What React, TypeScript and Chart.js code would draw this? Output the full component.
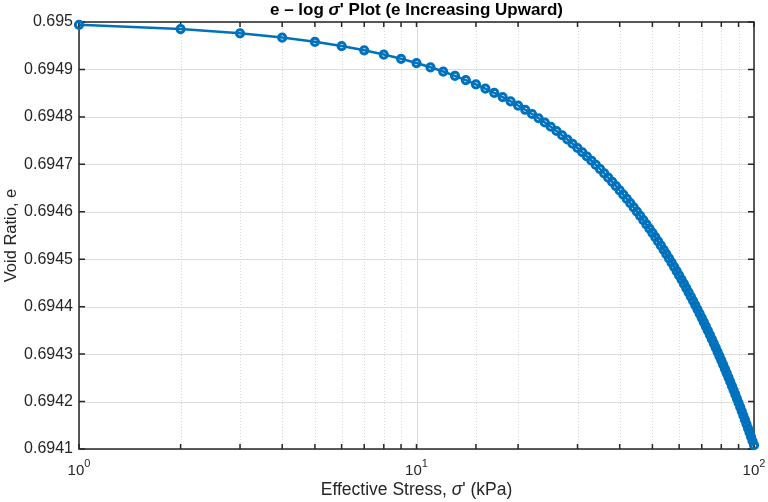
import React, { useEffect, useRef } from "react";
import { Chart, registerables } from "chart.js";

Chart.register(...registerables);

const stress: number[] = [
  1, 2, 3, 4, 5, 6, 7, 8, 9, 10, 11, 12, 13, 14, 15, 16, 17, 18, 19, 20,
  21, 22, 23, 24, 25, 26, 27, 28, 29, 30, 31, 32, 33, 34, 35, 36, 37, 38, 39, 40,
  41, 42, 43, 44, 45, 46, 47, 48, 49, 50, 51, 52, 53, 54, 55, 56, 57, 58, 59, 60,
  61, 62, 63, 64, 65, 66, 67, 68, 69, 70, 71, 72, 73, 74, 75, 76, 77, 78, 79, 80,
  81, 82, 83, 84, 85, 86, 87, 88, 89, 90, 91, 92, 93, 94, 95, 96, 97, 98, 99, 100,
];

const voidRatio: number[] = [
  0.694994, 0.69498505, 0.6949761, 0.69496715, 0.6949582, 0.69494925, 0.6949403, 0.69493135, 0.6949224, 0.69491345,
  0.6949045, 0.69489555, 0.6948866, 0.69487765, 0.6948687, 0.69485975, 0.6948508, 0.69484185, 0.6948329, 0.69482395,
  0.694815, 0.69480605, 0.6947971, 0.69478815, 0.6947792, 0.69477025, 0.6947613, 0.69475235, 0.6947434, 0.69473445,
  0.6947255, 0.69471655, 0.6947076, 0.69469865, 0.6946897, 0.69468075, 0.6946718, 0.69466285, 0.6946539, 0.69464495,
  0.694636, 0.69462705, 0.6946181, 0.69460915, 0.6946002, 0.69459125, 0.6945823, 0.69457335, 0.6945644, 0.69455545,
  0.6945465, 0.69453755, 0.6945286, 0.69451965, 0.6945107, 0.69450175, 0.6944928, 0.69448385, 0.6944749, 0.69446595,
  0.694457, 0.69444805, 0.6944391, 0.69443015, 0.6944212, 0.69441225, 0.6944033, 0.69439435, 0.6943854, 0.69437645,
  0.6943675, 0.69435855, 0.6943496, 0.69434065, 0.6943317, 0.69432275, 0.6943138, 0.69430485, 0.6942959, 0.69428695,
  0.694278, 0.69426905, 0.6942601, 0.69425115, 0.6942422, 0.69423325, 0.6942243, 0.69421535, 0.6942064, 0.69419745,
  0.6941885, 0.69417955, 0.6941706, 0.69416165, 0.6941527, 0.69414375, 0.6941348, 0.69412585, 0.6941169, 0.69410795,
];

const xMin = 1;
const xMax = 100;
const yMin = 0.6941;
const yMax = 0.695;
const yStep = 0.0001;

const titleParts: [string, boolean][] = [
  ["e \u2013 log ", false],
  ["\u03c3", true],
  ["' Plot (e Increasing Upward)", false],
];
const xTitleParts: [string, boolean][] = [
  ["Effective Stress, ", false],
  ["\u03c3", true],
  ["' (kPa)", false],
];
const yTitle = "Void Ratio, e";

const FONT = '"Liberation Sans", Arial, Helvetica, sans-serif';
const AXIS_COLOR = "#262626";
const LINE_COLOR = "#0072BD";

function drawParts(
  ctx: CanvasRenderingContext2D,
  parts: [string, boolean][],
  cx: number,
  cy: number,
  size: number,
  bold: boolean
) {
  const fontFor = (it: boolean) =>
    `${it ? "italic " : ""}${bold ? "bold " : ""}${size}px ${FONT}`;
  let total = 0;
  for (const [t, it] of parts) {
    ctx.font = fontFor(it);
    total += ctx.measureText(t).width;
  }
  let x = cx - total / 2;
  ctx.textAlign = "left";
  ctx.textBaseline = "middle";
  for (const [t, it] of parts) {
    ctx.font = fontFor(it);
    ctx.fillText(t, x, cy);
    x += ctx.measureText(t).width;
  }
}

const decorPlugin = {
  id: "decor",
  beforeDatasetsDraw(chart: any) {
    const { ctx, chartArea, scales } = chart;
    const { left, right, top, bottom } = chartArea;
    const x = scales.x;
    const y = scales.y;
    ctx.save();
    // x grid
    for (const t of x.ticks) {
      const v = t.value;
      const px = Math.round(x.getPixelForValue(v)) + 0.5;
      const isMajor = Math.abs(Math.log10(v) - Math.round(Math.log10(v))) < 1e-9;
      ctx.beginPath();
      if (isMajor) {
        ctx.setLineDash([]);
        ctx.strokeStyle = "#dcdcdc";
      } else {
        ctx.setLineDash([1, 2]);
        ctx.strokeStyle = "#d8d8d8";
      }
      ctx.lineWidth = 1;
      ctx.moveTo(px, top);
      ctx.lineTo(px, bottom);
      ctx.stroke();
    }
    ctx.setLineDash([]);
    // y grid
    for (const t of y.ticks) {
      const py = Math.round(y.getPixelForValue(t.value)) + 0.5;
      ctx.beginPath();
      ctx.strokeStyle = "#dcdcdc";
      ctx.lineWidth = 1;
      ctx.moveTo(left, py);
      ctx.lineTo(right, py);
      ctx.stroke();
    }
    // box
    ctx.strokeStyle = AXIS_COLOR;
    ctx.lineWidth = 1.5;
    ctx.strokeRect(left, top, right - left, bottom - top);
    // x ticks (inward, top and bottom)
    for (const t of x.ticks) {
      const px = x.getPixelForValue(t.value);
      const len = 5;
      ctx.beginPath();
      ctx.moveTo(px, bottom);
      ctx.lineTo(px, bottom - len);
      ctx.moveTo(px, top);
      ctx.lineTo(px, top + len);
      ctx.stroke();
    }
    // y ticks (inward, left and right)
    for (const t of y.ticks) {
      const py = y.getPixelForValue(t.value);
      ctx.beginPath();
      ctx.moveTo(left, py);
      ctx.lineTo(left + 6, py);
      ctx.moveTo(right, py);
      ctx.lineTo(right - 6, py);
      ctx.stroke();
    }
    // x tick labels (decades)
    ctx.fillStyle = AXIS_COLOR;
    for (const t of x.ticks) {
      const v = t.value;
      const e = Math.log10(v);
      if (Math.abs(e - Math.round(e)) > 1e-9) continue;
      const px = x.getPixelForValue(v);
      const base = "10";
      const exp = String(Math.round(e));
      ctx.font = `15px ${FONT}`;
      const wb = ctx.measureText(base).width;
      ctx.font = `11px ${FONT}`;
      const we = ctx.measureText(exp).width;
      const startX = px - (wb + we) / 2;
      ctx.textAlign = "left";
      ctx.textBaseline = "alphabetic";
      ctx.font = `15px ${FONT}`;
      ctx.fillText(base, startX, bottom + 26);
      ctx.font = `11px ${FONT}`;
      ctx.fillText(exp, startX + wb, bottom + 18);
    }
    // titles
    ctx.fillStyle = "#000000";
    drawParts(ctx, titleParts, (left + right) / 2, 10, 17, true);
    ctx.fillStyle = AXIS_COLOR;
    drawParts(ctx, xTitleParts, (left + right) / 2, bottom + 41, 17.5, false);
    ctx.save();
    ctx.translate(11, (top + bottom) / 2);
    ctx.rotate(-Math.PI / 2);
    ctx.font = `16.5px ${FONT}`;
    ctx.textAlign = "center";
    ctx.textBaseline = "middle";
    ctx.fillText(yTitle, 0, 0);
    ctx.restore();
    ctx.restore();
  },
};

export default function App() {
  const canvasRef = useRef<HTMLCanvasElement | null>(null);

  useEffect(() => {
    document.body.style.margin = "0";
    const canvas = canvasRef.current;
    if (!canvas) return;
    const points = stress.map((s, i) => ({ x: s, y: voidRatio[i] }));
    const chart = new Chart(canvas, {
      type: "line",
      data: {
        datasets: [
          {
            data: points,
            borderColor: LINE_COLOR,
            borderWidth: 2.5,
            pointStyle: "circle",
            pointRadius: 3.6,
            pointBorderWidth: 3,
            pointBorderColor: LINE_COLOR,
            pointBackgroundColor: "rgba(0,0,0,0)",
            tension: 0,
            clip: false as any,
          },
        ],
      },
      options: {
        responsive: false,
        animation: false,
        devicePixelRatio: 1,
        layout: { padding: { top: 22, right: 14, left: 0, bottom: 0 } },
        plugins: {
          legend: { display: false },
          tooltip: { enabled: false },
          title: { display: false },
        },
        scales: {
          x: {
            type: "logarithmic",
            min: xMin,
            max: xMax,
            grid: { display: false },
            border: { display: false },
            ticks: { display: false },
            afterFit: (s: any) => {
              s.height = 53;
            },
          },
          y: {
            type: "linear",
            min: yMin,
            max: yMax,
            grid: { display: false, drawTicks: false },
            border: { display: false },
            ticks: {
              stepSize: yStep,
              padding: 6,
              color: AXIS_COLOR,
              font: { family: FONT, size: 16 },
              callback: (v: any) => String(Number(Number(v).toFixed(4))),
            },
            afterFit: (s: any) => {
              s.width = 79;
            },
          },
        },
      },
      plugins: [decorPlugin],
    });
    return () => chart.destroy();
  }, []);

  return (
    <div style={{ position: "fixed", left: 0, top: 0, width: 768, height: 502, background: "#fff" }}>
      <canvas ref={canvasRef} width={768} height={502} />
    </div>
  );
}
